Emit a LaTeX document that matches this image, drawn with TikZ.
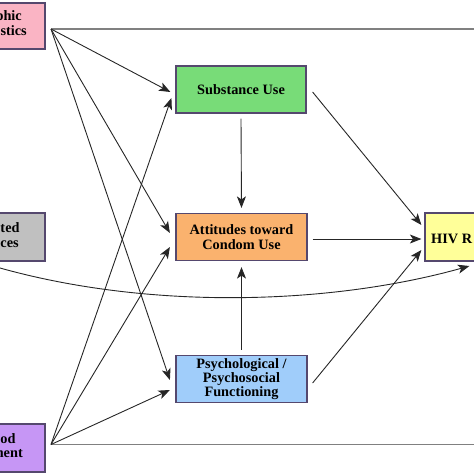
\documentclass[tikz,border=0pt]{standalone}
\usepackage{fontspec}
\setmainfont{Liberation Serif}
\usetikzlibrary{arrows.meta}
\definecolor{pinkc}{RGB}{250,180,196}
\definecolor{grayc}{RGB}{192,192,192}
\definecolor{purpc}{RGB}{198,150,245}
\definecolor{greenc}{RGB}{120,220,120}
\definecolor{orangec}{RGB}{250,178,110}
\definecolor{bluec}{RGB}{160,205,250}
\definecolor{yellowc}{RGB}{255,255,153}
\definecolor{bordc}{RGB}{85,72,110}
\begin{document}
\begin{tikzpicture}[x=1pt,y=-1pt,
  box/.style={draw=bordc,line width=1.2pt,minimum width=130pt,minimum height=47pt,inner sep=0pt,align=center,font=\fontsize{14.3}{15.5}\selectfont\bfseries},
  lbl/.style={inner sep=0pt,font=\fontsize{14.3}{15.5}\selectfont\bfseries},
  arr/.style={-{Stealth[length=11.5pt,width=9pt,inset=3pt]},line width=0.9pt,draw=black!85},
  hline/.style={draw=black!50,line width=1.6pt}]
\useasboundingbox (0,0) rectangle (474,474);
% left boxes (cropped)
\node[box,fill=pinkc,minimum width=128pt,minimum height=46pt] (demo) at (-19,26) {};
\node[lbl,anchor=base east] (demo1) at (22,20.5) {phic};
\node[lbl,anchor=base east] (demo2) at (27,35.5) {stics};
\node[box,fill=grayc,minimum width=128pt,minimum height=48pt] (rel) at (-19,237) {};
\node[lbl,anchor=base west] (rel1) at (0.3,232) {ted};
\node[lbl,anchor=base west] (rel2) at (0.3,247) {ces};
\node[box,fill=purpc,minimum width=128pt,minimum height=48pt] (chi) at (-19,448) {};
\node[lbl,anchor=base west] (chi1) at (0.3,443) {od};
\node[lbl,anchor=base east] (chi2) at (23,457.5) {ment};
% middle boxes
\node[box,fill=greenc] (sub) at (241,89.5) {Substance Use};
\node[box,fill=orangec,minimum width=131pt] (att) at (241.5,237) {Attitudes toward\\Condom Use};
\node[box,fill=bluec,minimum width=131pt,font=\fontsize{14.3}{14.3}\selectfont\bfseries] (psy) at (241.5,379) {Psychological /\\Psychosocial\\Functioning};
% right box (cropped)
\node[box,fill=yellowc,minimum width=110pt,minimum height=48pt] (hiv) at (480,237) {};
\node[lbl,anchor=base west] (hivt) at (431,243) {HIV R};
% origins
\coordinate (dO) at (51,29);
\coordinate (pO) at (51,444.5);
\coordinate (tR) at (474,29);
\coordinate (bR) at (474,444.5);
\coordinate (cS) at (0,268);
% long horizontal lines
\draw[hline] (dO) -- (tR);
\draw[hline] (pO) -- (bR);
% from demographics
\draw[arr] (dO) -- ([shift={(-5,2.5)}]sub.west);
\draw[arr] (dO) -- ([shift={(-5.5,-4)}]att.west);
\draw[arr] (dO) -- ([shift={(-5.5,1)}]psy.west);
% from purple
\draw[arr] (pO) -- ([shift={(-4,8.5)}]sub.west);
\draw[arr] (pO) -- ([shift={(-5.5,10)}]att.west);
\draw[arr] (pO) -- ([shift={(-5.5,11)}]psy.west);
% vertical
\draw[arr] ([shift={(0,5)}]sub.south) -- ([shift={(0,-5)}]att.north);
\draw[arr] ([shift={(0,-5)}]psy.north) -- ([shift={(0,6)}]att.south);
% to HIV
\draw[arr] ([shift={(6,2.5)}]sub.east) -- ([shift={(-3,-12)}]hiv.west);
\draw[arr] ([shift={(5,2)}]att.east) -- ([shift={(-3,2)}]hiv.west);
\draw[arr] ([shift={(5,4)}]psy.east) -- ([shift={(-3,13)}]hiv.west);
% curve
\draw[arr] (cS) .. controls (150,310) and (330,305) .. ([shift={(45,29)}]hiv.west);
\end{tikzpicture}
\end{document}
